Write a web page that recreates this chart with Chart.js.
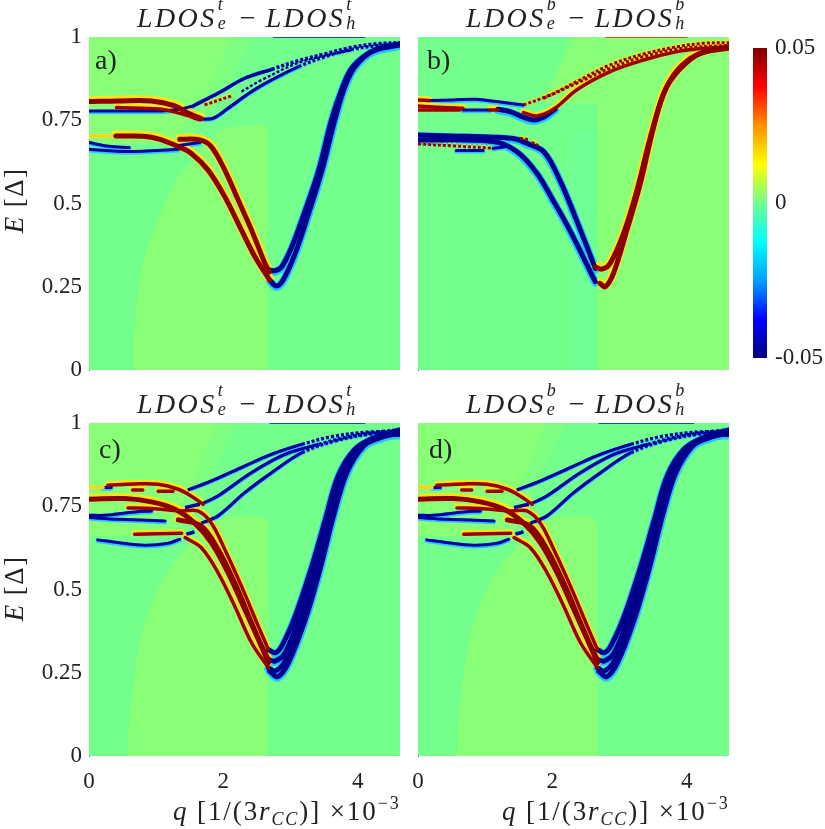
<!DOCTYPE html>
<html>
<head>
<meta charset="utf-8">
<title>LDOS</title>
<script src="https://cdn.jsdelivr.net/npm/chart.js@4"></script>
<style>
  html, body { margin: 0; padding: 0; background: #fff; }
  #page { position: relative; width: 825px; height: 829px; overflow: hidden; font-family: "Liberation Serif", serif; color: #222; }
  canvas { position: absolute; }
  .txt { position: absolute; white-space: nowrap; line-height: 1; z-index: 5; }
  .title { font-size: 28px; letter-spacing: 2.4px; }
  .title .ss { display: inline-block; position: relative; width: 13px; height: 1em; }
  .title .ss i { position: absolute; left: 1px; font-size: 18px; }
  .title .ss .up { top: -4px; }
  .title .ss .dn { top: 15px; }
  .title .minus { display: inline-block; width: 36px; text-align: center; letter-spacing: 0; }
  .lab { font-size: 28px; }
  .xlab { font-size: 27px; letter-spacing: 1.9px; }
  .xlab sub { font-size: 18px; font-style: italic; vertical-align: -5px; line-height: 0; }
  .xlab sup { font-size: 18px; vertical-align: 11px; line-height: 0; }
  .ylab { font-size: 27px; transform-origin: center; transform: rotate(-90deg); letter-spacing: 1.4px; }
</style>
</head>
<body>
<div id="page"></div>
<script>
// axes
const qMax = 4.63;
const qTicks = [0, 2, 4];
const eTicks = [0, 0.25, 0.5, 0.75, 1];
const barTicks = [-0.05, 0, 0.05];

// jet colormap, low to high
const jetColors = ['#00007f', '#0000ff', '#00a0ff', '#00ffff', '#70ff90', '#ffff00', '#ff9000', '#ff0000', '#7f0000'];

// panel a: bands as [q, E]
const aTopRed = [[0,.806],[.43,.808],[.93,.808],[1.28,.793],[1.48,.771],[1.67,.755]];
const aSecondRed = [[.41,.788],[1.08,.783],[1.38,.769],[1.65,.751]];
const aFlatBlue = [[0,.778],[.53,.778],[1.08,.778],[1.35,.783],[1.55,.793]];
const aReturnLow = [[1.67,.753],[1.85,.756],[2.07,.786],[2.42,.836],[2.72,.871],[3.12,.911],[3.51,.941],[3.91,.963],[4.26,.973],[4.63,.979]];
const aReturnHigh = [[1.55,.793],[1.92,.831],[2.32,.876],[2.72,.903],[3.12,.929],[3.51,.949],[3.91,.969],[4.26,.979],[4.63,.983]];
const aMidRedDots = [[1.72,.796],[2.12,.823]];
const aMidBlueDots = [[2.27,.836],[2.57,.871],[3.17,.926],[3.9,.96]];
const aLeftTail = [[0,.703],[.4,.704]];
const aDipOuter = [[.4,.703],[.93,.699],[1.33,.671],[1.52,.651],[1.77,.601],[2.02,.521],[2.27,.42],[2.47,.34],[2.69,.27]];
const aDipInner = [[1.35,.693],[1.65,.691],[1.82,.671],[2.02,.601],[2.22,.511],[2.42,.42],[2.62,.32],[2.69,.295]];
const aLowBlue1 = [[0,.683],[.3,.672],[.6,.668]];
const aLowBlue2 = [[0,.663],[.58,.656],[1.33,.663]];
const aLowBlue3 = [[1.28,.673],[1.65,.683]];
const aValleyUp = [[2.69,.30],[2.77,.298],[2.87,.31],[3.02,.37],[3.22,.48],[3.42,.60],[3.61,.751],[3.76,.841],[3.91,.906],[4.16,.951],[4.41,.971],[4.63,.979]];
const aValleyLow = [[2.69,.27],[2.79,.252],[2.89,.27],[3.07,.35],[3.27,.47],[3.47,.60],[3.66,.751],[3.81,.851],[3.96,.911],[4.21,.956],[4.63,.976]];
const aEdge = [[2.75,1],[4.1,1]];

// panel b
const bTopRed = [[0,.811],[.17,.809]];
const bTopBlue = [[.17,.809],[.52,.811],[.87,.813],[1.17,.806],[1.57,.796]];
const bSecondRed = [[0,.793],[.32,.789],[.67,.786]];
const bThirdRed = [[0,.781],[.62,.781]];
const bBlueDash = [[.67,.781],[1.07,.781]];
const bRedDash = [[1.07,.781],[1.19,.781]];
const bDipBlue = [[1.19,.783],[1.37,.776],[1.57,.759],[1.72,.751],[1.87,.759],[2.04,.783]];
const bRiseHigh = [[1.57,.796],[1.97,.826],[2.36,.866],[2.86,.916],[3.36,.949],[3.86,.971],[4.25,.981],[4.63,.983]];
const bRiseLow = [[1.57,.773],[1.77,.763],[2.04,.786],[2.36,.841],[2.86,.896],[3.36,.931],[3.86,.956],[4.25,.966],[4.63,.971]];
const bRiseMid = [[1.87,.816],[2.36,.861],[2.86,.906],[3.36,.941],[3.9,.965],[4.63,.975]];
const bLowerBlue1 = [[0,.706],[.47,.703],[1.12,.699],[1.47,.693],[1.59,.683],[1.87,.656],[2.11,.571],[2.36,.45],[2.64,.305]];
const bLowerBlue2 = [[0,.691],[1.12,.686],[1.47,.656],[1.77,.591],[2.01,.51],[2.26,.42],[2.64,.265]];
const bRedTick1 = [[1.52,.696],[1.67,.691]];
const bRedTick2 = [[1.69,.684],[1.79,.674]];
const bLowRed = [[0,.679],[.52,.673],[1.12,.666]];
const bLowBlue1 = [[.57,.659],[.97,.659]];
const bLowBlue2 = [[1.12,.666],[1.32,.671]];
const bValleyUp = [[2.64,.31],[2.74,.303],[2.86,.32],[3.06,.41],[3.26,.54],[3.46,.70],[3.66,.831],[3.86,.90],[4.15,.946],[4.63,.971]];
const bValleyLow = [[2.71,.26],[2.79,.25],[2.91,.29],[3.11,.42],[3.31,.56],[3.51,.731],[3.68,.841],[3.91,.906],[4.2,.951],[4.63,.966]];
const bEdge = [[2.8,1],[4.0,1]];

// panels c and d carry almost the same bands
const cTopRed = [[.28,.813],[.68,.817],[1.03,.816],[1.33,.801],[1.52,.781],[1.70,.756]];
const cTopTail = [[0,.808],[.21,.806]];
const cBlueTick = [[.21,.806],[.33,.806]];
const cRedTick1 = [[.65,.799],[.8,.799]];
const cRedTick2 = [[1.03,.795],[1.25,.795]];
const cBand2 = [[0,.771],[.53,.773],[.93,.763],[1.28,.741],[1.57,.70],[1.82,.641],[2.07,.551],[2.32,.44],[2.57,.33],[2.67,.29]];
const cBand3 = [[.58,.745],[.93,.743],[1.38,.736],[1.62,.736],[1.82,.70],[2.02,.621],[2.27,.51],[2.52,.39],[2.67,.32]];
const cBand4 = [[1.33,.709],[1.67,.691],[1.92,.621],[2.17,.52],[2.42,.40],[2.67,.28]];
const cBand5Left = [[.68,.666],[1.38,.669]];
const cBand5 = [[1.43,.656],[1.67,.626],[1.92,.551],[2.17,.45],[2.42,.34],[2.67,.265]];
const cReturn1 = [[1.47,.799],[1.82,.826],[2.32,.871],[2.72,.906],[3.17,.936],[3.61,.959],[4.16,.973],[4.63,.973]];
const cReturn2 = [[1.70,.759],[1.92,.781],[2.42,.851],[2.92,.906],[3.42,.936],[3.91,.961],[4.41,.976],[4.63,.979]];
const cReturn3 = [[1.67,.699],[1.92,.721],[2.32,.791],[2.72,.851],[3.17,.911],[3.66,.946],[4.16,.966],[4.63,.973]];
const cBlueShort1 = [[1.43,.746],[1.65,.756]];
const cBlueShort2 = [[1.45,.666],[1.57,.673]];
const cLeftBlue1 = [[0,.723],[.23,.723],[.68,.733],[.93,.736]];
const cLeftBlue2 = [[0,.716],[.43,.711],[1.13,.706]];
const cLeftBlue3 = [[.13,.649],[.43,.641],[.83,.633],[1.18,.639],[1.35,.651]];
const cValley1 = [[2.67,.32],[2.77,.31],[2.87,.33],[3.07,.42],[3.32,.571],[3.52,.711],[3.71,.841],[3.96,.921],[4.26,.956],[4.63,.976]];
const cValley2 = [[2.67,.29],[2.77,.285],[2.92,.31],[3.12,.41],[3.37,.571],[3.56,.721],[3.76,.851],[3.99,.926],[4.31,.961],[4.63,.979]];
const cValley3 = [[2.67,.265],[2.77,.255],[2.92,.285],[3.17,.40],[3.39,.54],[3.59,.70],[3.79,.841],[4.04,.926],[4.34,.956],[4.63,.971]];
const cValley4 = [[2.69,.255],[2.81,.238],[2.97,.28],[3.22,.41],[3.44,.561],[3.64,.721],[3.84,.851],[4.09,.931],[4.36,.961],[4.63,.966]];
const cEdge = [[2.7,1],[4.1,1]];

// background patches
const fullTop = [[0,1],[qMax,1]];
const aWedge = [[.66,0],[.67,.1],[.71,.2],[.78,.3],[.88,.38],[1.0,.44],[1.15,.51],[1.3,.57],[1.5,.62],[1.7,.67],[1.9,.71],[2.05,.73],[2.3,.735],[2.66,.735],[2.66,0]];
const aUpperLeft = [[0,.68],[1.2,.68],[1.45,.74],[1.65,.80],[1.85,.87],[2.0,.94],[2.1,1]];
const aUpperFade = [[0,.68],[1.4,.68],[1.7,.74],[1.9,.80],[2.1,.87],[2.3,.94],[2.4,1]];
const bRight = [[2.67,1],[qMax,1]];
const bUpper = [[1.87,.82],[2.0,.87],[2.15,.93],[2.3,1],[2.67,1]];
const bStrip = [[2.3,.72],[2.67,.72]];
const cWedge = [[.58,0],[.6,.1],[.65,.2],[.72,.3],[.82,.4],[.95,.47],[1.1,.53],[1.3,.59],[1.5,.635],[1.7,.675],[1.9,.705],[2.05,.72],[2.55,.72],[2.67,.70],[2.67,0]];
const cUpperLeft = [[0,.66],[1.2,.66],[1.4,.76],[1.55,.82],[1.75,.92],[1.9,1]];
const cUpperFade = [[0,.66],[1.4,.66],[1.65,.76],[1.8,.82],[2.0,.92],[2.2,1]];

// line looks: an offset halo under a darker core
const looks = {
    red:      { halo: '#ffe21a', haloW: 8, lift: 0.004, core: '#8a0000', coreW: 5 },
    redThin:  { halo: '#ffe21a', haloW: 5.5, lift: 0.004, core: '#9a0000', coreW: 3.5 },
    redBead:  { halo: '#ffe21a', haloW: 4.5, lift: 0.002, core: '#9a0000', coreW: 3, dashFrom: 0 },
    tail:     { core: '#ffd21a', coreW: 3.5 },
    blue:     { halo: '#1ec8ff', haloW: 8, lift: -0.003, core: '#00008c', coreW: 5 },
    blueThin: { halo: '#30c4ff', haloW: 4.5, lift: -0.003, core: '#0000a0', coreW: 3 },
    blueTail: { halo: '#30c4ff', haloW: 4, lift: -0.002, core: '#0000a0', coreW: 3.2, dashFrom: 3.1 },
    blueBead: { halo: '#30c4ff', haloW: 4, lift: 0, core: '#00009a', coreW: 3.4, dashFrom: 2.5 },
    blueDots: { core: '#0000a0', coreW: 2.4, lift: 0, dashFrom: 0 },
    edgeBlue: { core: '#0a55b0', coreW: 2 },
    edgeRed:  { core: '#e8500f', coreW: 2 }
};
const MINT = '#74ff8c', WARM = '#88ff77', FADE = '#7eff82';

const panels = [
    { id: 'a)', left: 89, top: 37, bottomRow: false, yLabels: true,
      patches: [[aWedge, WARM, 'origin'], [aUpperFade, FADE, 'end'], [aUpperLeft, WARM, 'end']],
      bands: [[aReturnLow,'blueTail'],[aReturnHigh,'blueBead'],[aMidBlueDots,'blueDots'],[aMidRedDots,'redBead'],
              [aFlatBlue,'blueThin'],[aLowBlue1,'blueThin'],[aLowBlue2,'blueThin'],[aLowBlue3,'blueThin'],
              [aValleyUp,'blue'],[aValleyLow,'blue'],[aLeftTail,'tail'],
              [aTopRed,'red'],[aSecondRed,'redThin'],[aDipOuter,'red'],[aDipInner,'red'],[aEdge,'edgeBlue']] },
    { id: 'b)', left: 418, top: 37, bottomRow: false, yLabels: false,
      patches: [[bStrip, '#6fff94', 'origin'], [bRight, WARM, 'origin'], [bUpper, WARM, { value: 0.8 }]],
      bands: [[bTopBlue,'blueThin'],[bBlueDash,'blueThin'],[bDipBlue,'blue'],[bLowerBlue1,'blue'],[bLowerBlue2,'blue'],
              [bLowBlue1,'blueThin'],[bLowBlue2,'blueThin'],
              [bRiseHigh,'redBead'],[bRiseMid,'redBead'],[bRiseLow,'redThin'],
              [bTopRed,'redThin'],[bSecondRed,'redThin'],[bThirdRed,'redThin'],[bRedDash,'redThin'],
              [bRedTick1,'redBead'],[bRedTick2,'redBead'],[bLowRed,'redBead'],
              [bValleyUp,'red'],[bValleyLow,'red'],[bEdge,'edgeRed']] }
];
const lowerRowBands = [[cReturn1,'blueTail'],[cReturn2,'blueTail'],[cReturn3,'blueTail'],
    [cBlueTick,'blueThin'],[cBlueShort1,'blueBead'],[cBlueShort2,'blueBead'],
    [cLeftBlue1,'blueThin'],[cLeftBlue2,'blueThin'],[cLeftBlue3,'blueThin'],
    [cValley1,'blue'],[cValley2,'blue'],[cValley3,'blue'],[cValley4,'blue'],
    [cTopTail,'tail'],[cRedTick1,'redThin'],[cRedTick2,'redThin'],[cBand5Left,'redThin'],
    [cTopRed,'redThin'],[cBand2,'red'],[cBand3,'redThin'],[cBand4,'red'],[cBand5,'redThin'],[cEdge,'edgeBlue']];
const lowerRowPatches = [[cWedge, WARM, 'origin'], [cUpperFade, FADE, 'end'], [cUpperLeft, WARM, 'end']];
panels.push({ id: 'c)', left: 89, top: 423, bottomRow: true, yLabels: true, patches: lowerRowPatches, bands: lowerRowBands });
panels.push({ id: 'd)', left: 418, top: 423, bottomRow: true, yLabels: false, patches: lowerRowPatches, bands: lowerRowBands });

// top padding has to clear half a tick label plus its padding, or the scale insets itself
const PLOT_W = 311, PLOT_H = 333, GUTTER = 60, PAD_TOP = 22, PAD_RIGHT = 8, FOOT = 50;
const page = document.getElementById('page');

function toPoints(list, lift) {
    return list.map(p => ({ x: p[0], y: p[1] + (lift || 0) }));
}

function patchDataset(list, color, fill) {
    return { data: toPoints(list), fill: fill, backgroundColor: color, borderWidth: 0, pointRadius: 0, tension: 0, clip: 0 };
}

function bandDataset(list, color, width, look, lift) {
    const ds = { data: toPoints(list, lift), fill: false, borderColor: color, borderWidth: width, pointRadius: 0,
        tension: 0.35, borderCapStyle: 'round', borderJoinStyle: 'round', clip: 0 };
    if (look.dashFrom !== undefined) {
        ds.borderCapStyle = 'butt';
        ds.segment = { borderDash: ctx => ctx.p0.parsed.x >= look.dashFrom ? [3, 2] : undefined };
    }
    return ds;
}

function buildDatasets(panel) {
    const sets = [patchDataset(fullTop, MINT, 'origin')];
    panel.patches.forEach(p => sets.push(patchDataset(p[0], p[1], p[2])));
    // all halos go under all cores
    panel.bands.forEach(b => {
        const look = looks[b[1]];
        if (look.halo) sets.push(bandDataset(b[0], look.halo, look.haloW, look, look.lift));
    });
    panel.bands.forEach(b => {
        const look = looks[b[1]];
        sets.push(bandDataset(b[0], look.core, look.coreW, look, 0));
    });
    sets.forEach((s, i) => { s.order = sets.length - i; });
    return sets;
}

function addCanvas(left, top, w, h) {
    const c = document.createElement('canvas');
    c.width = w; c.height = h;
    c.style.left = left + 'px'; c.style.top = top + 'px';
    c.style.width = w + 'px'; c.style.height = h + 'px';
    page.appendChild(c);
    return c;
}

function addText(cls, left, top, html) {
    const d = document.createElement('div');
    d.className = 'txt ' + cls;
    d.style.left = left + 'px';
    d.style.top = top + 'px';
    d.innerHTML = html;
    page.appendChild(d);
    return d;
}

const tickFont = { family: '"Liberation Serif", serif', size: 23 };

function drawPanel(panel) {
    const canvas = addCanvas(panel.left - GUTTER, panel.top - PAD_TOP, GUTTER + PLOT_W + PAD_RIGHT, PAD_TOP + PLOT_H + FOOT);
    new Chart(canvas, {
        type: 'line',
        data: { datasets: buildDatasets(panel) },
        options: {
            responsive: false,
            animation: false,
            layout: { padding: { top: PAD_TOP, right: PAD_RIGHT } },
            plugins: { legend: { display: false }, tooltip: { enabled: false } },
            scales: {
                x: {
                    type: 'linear', min: 0, max: qMax,
                    afterBuildTicks: axis => { axis.ticks = qTicks.map(v => ({ value: v })); },
                    afterFit: axis => { axis.height = FOOT; },
                    grid: { display: false, drawTicks: false },
                    border: { display: false },
                    ticks: { display: panel.bottomRow, color: '#222', font: tickFont, padding: 12, maxRotation: 0, callback: v => String(v) }
                },
                y: {
                    type: 'linear', min: 0, max: 1,
                    afterBuildTicks: axis => { axis.ticks = eTicks.map(v => ({ value: v })); },
                    afterFit: axis => { axis.width = GUTTER; },
                    grid: { display: false, drawTicks: false },
                    border: { display: true, color: '#555', width: 1 },
                    ticks: { display: panel.yLabels, color: '#222', font: tickFont, padding: 7, callback: v => String(v) }
                }
            }
        }
    });
}

function drawColorbar() {
    const canvas = addCanvas(753, 24, 72, 358);
    new Chart(canvas, {
        type: 'bar',
        data: {
            labels: ['LDOS'],
            datasets: [{
                data: [[barTicks[0], barTicks[2]]],
                barPercentage: 1,
                categoryPercentage: 1,
                backgroundColor: function(ctx) {
                    const area = ctx.chart.chartArea;
                    if (!area) return jetColors[0];
                    const g = ctx.chart.ctx.createLinearGradient(0, area.bottom, 0, area.top);
                    jetColors.forEach((c, i) => g.addColorStop(i / (jetColors.length - 1), c));
                    return g;
                }
            }]
        },
        options: {
            responsive: false,
            animation: false,
            layout: { padding: { top: 24, bottom: 24 } },
            plugins: { legend: { display: false }, tooltip: { enabled: false } },
            scales: {
                x: { display: false },
                y: {
                    position: 'right',
                    min: barTicks[0], max: barTicks[2],
                    afterBuildTicks: axis => { axis.ticks = barTicks.map(v => ({ value: v })); },
                    afterFit: axis => { axis.width = 58; },
                    grid: { display: false, drawTicks: false },
                    border: { display: false },
                    ticks: { color: '#222', font: tickFont, padding: 8, crossAlign: 'near', callback: v => String(v) }
                }
            }
        }
    });
}

function titleHtml(s) {
    const part = letter => '<i>LDOS</i><span class="ss"><i class="up">' + s + '</i><i class="dn">' + letter + '</i></span>';
    return part('e') + '<span class="minus">−</span>' + part('h');
}

panels.forEach(drawPanel);
drawColorbar();

// titles, panel tags and axis names
addText('title', 137, -1, titleHtml('t'));
addText('title', 466, -1, titleHtml('b'));
addText('title', 137, 385, titleHtml('t'));
addText('title', 466, 385, titleHtml('b'));
addText('lab', 95, 46, 'a)');
addText('lab', 427, 46, 'b)');
addText('lab', 99, 435, 'c)');
addText('lab', 429, 435, 'd)');
const xName = '<i>q</i> [1/(3<i>r</i><sub>CC</sub>)] ×10<sup>−3</sup>';
addText('xlab', 173, 798, xName);
addText('xlab', 502, 798, xName);
const yName = '<i>E</i> [Δ]';
addText('ylab', -18, 187, yName);
addText('ylab', -18, 575, yName);
</script>
</body>
</html>
